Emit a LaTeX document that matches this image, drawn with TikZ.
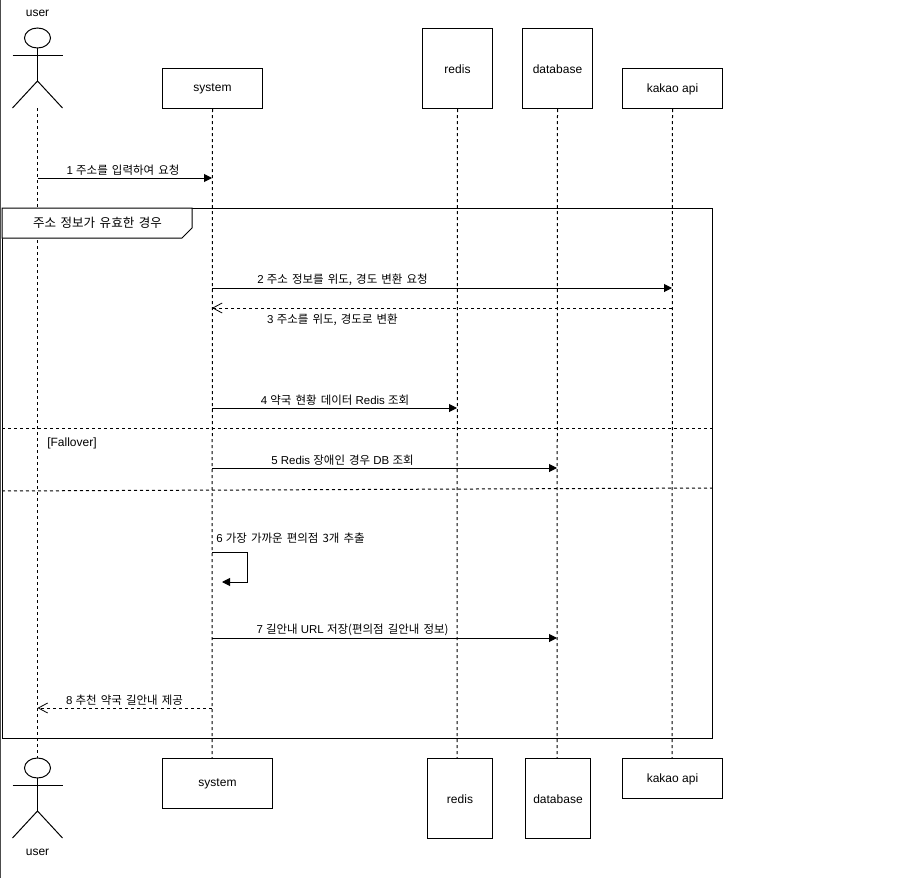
\documentclass[tikz,border=0pt]{standalone}
\usepackage{fontspec}
\setmainfont{Liberation Sans}
\newfontfamily\krfont[WordSpace=1.6]{Noto Sans CJK KR}
\newcommand{\kr}[1]{{\krfont #1}}
\usetikzlibrary{arrows.meta}
\tikzset{
  line/.style={line width=0.75pt,black},
  box/.style={draw,line width=0.75pt,fill=white,inner sep=0pt,anchor=north west,font=\fontsize{9}{11}\selectfont},
  actorbox/.style={inner sep=0pt,minimum width=37.5pt,minimum height=60pt},
  txt/.style={inner sep=0pt,yshift=-0.6pt,font=\fontsize{9}{11}\selectfont},
  msg/.style={inner sep=0pt,yshift=-0.6pt,font=\fontsize{8.6}{11}\selectfont},
  title/.style={inner sep=0pt,yshift=-0.4pt,font=\fontsize{9.4}{11}\selectfont},
  lifeline/.style={line,dash pattern=on 2.25pt off 2.25pt},
  sync/.style={line,-{Triangle[length=6pt,width=6pt]}},
  reply/.style={line,dash pattern=on 2.25pt off 2.25pt,-{Straight Barb[length=7pt,width=7.5pt,line width=0.6pt]}},
  divider/.style={line,dash pattern=on 2.25pt off 2.25pt},
  pics/stick/.style={code={
    \draw[line] (0,-30) ellipse (13 and 10);
    \draw[line] (0,-20) -- (0,13);
    \draw[line] (-25,-13) -- (25,-13);
    \draw[line] (-25,40) -- (0,13) -- (25,40);
  }}
}
\begin{document}
\begin{tikzpicture}[x=0.75pt,y=-0.75pt]
\useasboundingbox (0,0) rectangle (918,878);
\draw[line width=0.75pt,black!70] (0.5,0) -- (0.5,878);

% top participants
\node[actorbox] (userT) at (37.5,68) {};
\pic at (userT.center) {stick};
\node[txt] (userTL) at (37.5,13) {user};
\node[box,minimum width=75pt,minimum height=30pt] (sysT) at (162,68) {};
\node[txt] at (sysT.center) {system};
\node[box,minimum width=52.5pt,minimum height=60pt] (redisT) at (422,28) {};
\node[txt] at (redisT.center) {redis};
\node[box,minimum width=52.5pt,minimum height=60pt] (dbT) at (522,28) {};
\node[txt] at (dbT.center) {database};
\node[box,minimum width=75pt,minimum height=30pt] (kakaoT) at (622,68) {};
\node[txt] at (kakaoT.center) {kakao api};

% bottom participants
\node[actorbox] (userB) at (37.5,798) {};
\pic at (userB.center) {stick};
\node[txt] (userBL) at (37.5,852) {user};
\node[box,minimum width=82.5pt,minimum height=37.5pt] (sysB) at (162,758) {};
\node[txt] at (sysB.center) {system};
\node[box,minimum width=48.75pt,minimum height=60pt] (redisB) at (427,758) {};
\node[txt] at (redisB.center) {redis};
\node[box,minimum width=48.75pt,minimum height=60pt] (dbB) at (525,758) {};
\node[txt] at (dbB.center) {database};
\node[box,minimum width=75pt,minimum height=30pt] (kakaoB) at (622,758) {};
\node[txt] at (kakaoB.center) {kakao api};

% lifelines
\coordinate (uTop) at (37.5,108);
\coordinate (uBot) at (37.5,758);
\coordinate (sBot) at (212,758);
\coordinate (rBot) at (457,758);
\coordinate (dBot) at (557,758);
\coordinate (kBot) at (672,758);
\draw[lifeline] (uTop) -- (uBot);
\draw[lifeline] (sysT.south) -- (sBot);
\draw[lifeline] (redisT.south) -- (rBot);
\draw[lifeline] (dbT.south) -- (dBot);
\draw[lifeline] (kakaoT.south) -- (kBot);

% frame
\node[draw,line width=0.75pt,inner sep=0pt,anchor=north west,minimum width=532.5pt,minimum height=397.5pt] (frame) at (2,208) {};
\coordinate (ft0) at (2,208);
\coordinate (ft1) at (192,208);
\coordinate (ft2) at (192,228);
\coordinate (ft3) at (182,238);
\coordinate (ft4) at (2,238);
\draw[line,fill=white] (ft0) -- (ft1) -- (ft2) -- (ft3) -- (ft4) -- cycle;
\node[title] (ftitle) at (97.5,222) {\kr{주소 정보가 유효한 경우}};
\coordinate (d1a) at (2,428);
\coordinate (d1b) at (712,428);
\coordinate (d2a) at (2,491);
\coordinate (d2b) at (712,488);
\draw[divider] (d1a) -- (d1b);
\draw[divider] (d2a) -- (d2b);
\node[txt] (fall) at (72,442.5) {[Fallover]};

% messages
\foreach \n/\xa/\xb/\yy in {1/37.5/212/178,2/212/672/288,3/672/212/308,4/212/457/408,5/212/557/468,7/212/557/638,8/212/37.5/708}{
  \coordinate (m\n a) at (\xa,\yy);
  \coordinate (m\n b) at (\xb,\yy);
}
\draw[sync] (m1a) -- (m1b);
\draw[sync] (m2a) -- (m2b);
\draw[reply] (m3a) -- (m3b);
\draw[sync] (m4a) -- (m4b);
\draw[sync] (m5a) -- (m5b);
\draw[sync] (m7a) -- (m7b);
\draw[reply] (m8a) -- (m8b);
\coordinate (s1) at (212,552);
\coordinate (s2) at (247,552);
\coordinate (s3) at (247,582);
\coordinate (s4) at (222,582);
\draw[sync] (s1) -- (s2) -- (s3) -- (s4);

\node[msg] (l1) at (123,169) {1 \kr{주소를 입력하여 요청}};
\node[msg] (l2) at (342.5,279) {2 \kr{주소 정보를 위도, 경도 변환 요청}};
\node[msg] (l3) at (332.5,319) {3 \kr{주소를 위도, 경도로 변환}};
\node[msg] (l4) at (335,399) {4 \kr{약국 현황 데이터} Redis \kr{조회}};
\node[msg] (l5) at (342.5,459) {5 Redis \kr{장애인 경우} DB \kr{조회}};
\node[msg,anchor=west] (l6) at (216,537) {6 \kr{가장 가까운 편의점 3개 추출}};
\node[msg] (l7) at (352.5,629) {7 \kr{길안내} URL \kr{저장(편의점 길안내 정보)}};
\node[msg] (l8) at (124.5,699) {8 \kr{추천 약국 길안내 제공}};
\end{tikzpicture}
\end{document}
